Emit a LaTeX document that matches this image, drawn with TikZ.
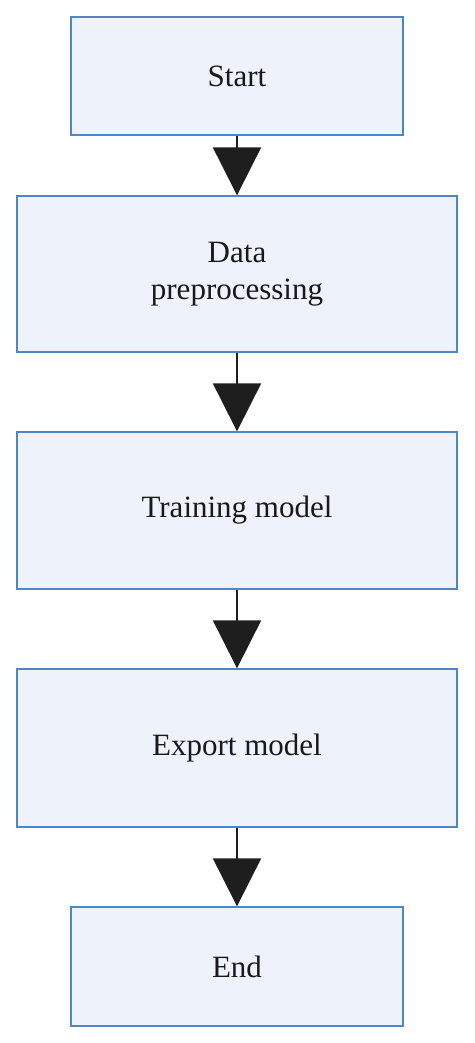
\documentclass[tikz,border=0pt]{standalone}
\usepackage{fontspec}
\setmainfont{Liberation Serif}
\usetikzlibrary{arrows.meta}
\definecolor{boxfill}{HTML}{EEF2FA}
\definecolor{boxline}{HTML}{4F86C6}
\definecolor{arrowc}{HTML}{1E1E1E}
\begin{document}
\begin{tikzpicture}[x=1pt,y=-1pt,
  flowbox/.style={draw=boxline,fill=boxfill,line width=1.3pt,inner sep=0pt,
    font=\fontsize{31}{37}\selectfont,align=center,text=black!90},
  flowarrow/.style={draw=arrowc,line width=2pt,-{Triangle[length=48pt,width=48pt,fill=arrowc]}}]
\useasboundingbox (0,0) rectangle (474,1043);
\node[flowbox,minimum width=332pt,minimum height=118pt] (start) at (237,76) {Start};
\node[flowbox,minimum width=440pt,minimum height=156pt] (prep) at (237,274) {Data\\preprocessing};
\node[flowbox,minimum width=440pt,minimum height=157pt] (train) at (237,510.5) {Training model};
\node[flowbox,minimum width=440pt,minimum height=158pt] (export) at (237,748) {Export model};
\node[flowbox,minimum width=332pt,minimum height=119pt] (end) at (237,966.5) {End};
\draw[flowarrow] (start.south) -- (prep.north);
\draw[flowarrow] (prep.south) -- (train.north);
\draw[flowarrow] (train.south) -- (export.north);
\draw[flowarrow] (export.south) -- (end.north);
\end{tikzpicture}
\end{document}
